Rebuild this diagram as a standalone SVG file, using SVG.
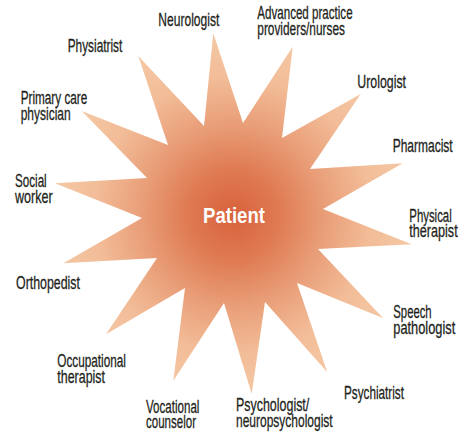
<svg xmlns="http://www.w3.org/2000/svg" width="470" height="438" viewBox="0 0 470 438">
<defs>
<radialGradient id="glow" gradientUnits="userSpaceOnUse" cx="233" cy="215" r="185">
<stop offset="0" stop-color="#d8613b"/>
<stop offset="0.25" stop-color="#df7b53"/>
<stop offset="0.5" stop-color="#e99f79"/>
<stop offset="0.75" stop-color="#f2bd98"/>
<stop offset="1" stop-color="#f5c8a5"/>
</radialGradient>
<style>
.lbl{font-family:"Liberation Sans","DejaVu Sans",sans-serif;font-size:18px;fill:#231f20;stroke:#231f20;stroke-width:0.3px}
.ctr{font-family:"Liberation Sans","DejaVu Sans",sans-serif;font-size:22.5px;font-weight:bold;fill:#ffffff}
</style>
</defs>
<rect width="470" height="438" fill="#ffffff"/>
<g id="connectors"/>
<g id="patient">
<polygon fill="url(#glow)" points="213.3,33.3 243,123 292.7,46.7 282,138 360.7,94 310,169 402.7,163.3 323,209 411.7,244.3 318,249 383.3,318.3 297,283 327.3,372.3 265,302 251.7,394 224,303 173.3,380.7 185,288 106,334.3 157,258 63.3,263.3 142,218 55,183.3 147,178 81.7,111 168,145 138.3,56 204,126"/>
<text class="ctr" transform="translate(203,223) scale(0.826,1)">Patient</text>
</g>
<g id="neurologist"><text class="lbl" transform="translate(158.3,25.7) scale(0.670,1)">Neurologist</text></g>
<g id="advanced-practice"><text class="lbl" transform="translate(257.3,19.3) scale(0.644,1)">Advanced practice</text><text class="lbl" transform="translate(257.3,35) scale(0.659,1)">providers/nurses</text></g>
<g id="urologist"><text class="lbl" transform="translate(357.3,88.3) scale(0.686,1)">Urologist</text></g>
<g id="pharmacist"><text class="lbl" transform="translate(392.7,151.7) scale(0.667,1)">Pharmacist</text></g>
<g id="physical-therapist"><text class="lbl" transform="translate(409.3,221.7) scale(0.633,1)">Physical</text><text class="lbl" transform="translate(409.3,237.3) scale(0.701,1)">therapist</text></g>
<g id="speech-pathologist"><text class="lbl" transform="translate(393.3,318.3) scale(0.629,1)">Speech</text><text class="lbl" transform="translate(393.3,334) scale(0.712,1)">pathologist</text></g>
<g id="psychiatrist"><text class="lbl" transform="translate(344,399.3) scale(0.652,1)">Psychiatrist</text></g>
<g id="psychologist"><text class="lbl" transform="translate(236,410.7) scale(0.691,1)">Psychologist/</text><text class="lbl" transform="translate(236,426.5) scale(0.667,1)">neuropsychologist</text></g>
<g id="vocational-counselor"><text class="lbl" transform="translate(146,412.7) scale(0.643,1)">Vocational</text><text class="lbl" transform="translate(146,428.3) scale(0.641,1)">counselor</text></g>
<g id="occupational-therapist"><text class="lbl" transform="translate(57.3,367.3) scale(0.654,1)">Occupational</text><text class="lbl" transform="translate(57.3,382.7) scale(0.691,1)">therapist</text></g>
<g id="orthopedist"><text class="lbl" transform="translate(16,289.3) scale(0.688,1)">Orthopedist</text></g>
<g id="social-worker"><text class="lbl" transform="translate(15,187.3) scale(0.647,1)">Social</text><text class="lbl" transform="translate(15,203.3) scale(0.698,1)">worker</text></g>
<g id="primary-care"><text class="lbl" transform="translate(20.7,104) scale(0.653,1)">Primary care</text><text class="lbl" transform="translate(20.7,119.5) scale(0.666,1)">physician</text></g>
<g id="physiatrist"><text class="lbl" transform="translate(67.7,51.7) scale(0.658,1)">Physiatrist</text></g>
</svg>
